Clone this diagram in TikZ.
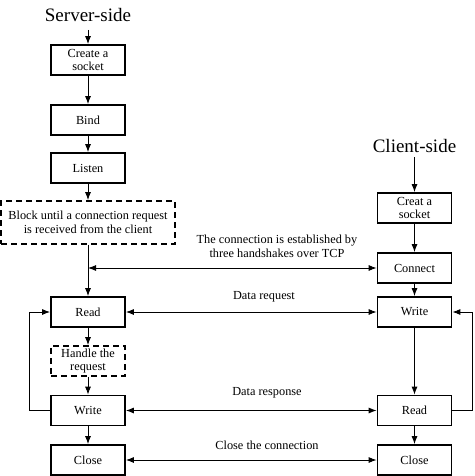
\documentclass[tikz,border=0pt]{standalone}
\usepackage{fontspec}
\setmainfont{Liberation Serif}
\usetikzlibrary{arrows.meta}
\tikzset{
  box/.style={draw, line width=1.7pt, minimum width=74pt, minimum height=30pt, inner sep=1pt, align=center, font=\fontsize{12.3}{13.5}\selectfont},
  dbox/.style={box, dashed, dash pattern=on 6pt off 4pt},
  conn/.style={line width=0.9pt, -{Latex[length=8pt,width=6pt]}},
  dconn/.style={line width=0.9pt, {Latex[length=8pt,width=6pt]}-{Latex[length=8pt,width=6pt]}},
  lbl/.style={font=\fontsize{12.3}{14}\selectfont, align=center},
  ttl/.style={font=\fontsize{19}{21}\selectfont}
}
\begin{document}
\begin{tikzpicture}[x=1pt,y=-1pt]
\useasboundingbox (0,0) rectangle (474,476);
% titles
\node[ttl] (st) at (88,15) {Server-side};
\node[ttl] (ct) at (414.5,146) {Client-side};
\coordinate (sta) at (88,30);
\coordinate (cta) at (414.5,157);
% server column
\node[box] (cs) at (88,60) {Create a\\socket};
\node[box] (bind) at (88,120) {Bind};
\node[box] (listen) at (88,168) {Listen};
\node[dbox, minimum width=174pt, minimum height=43pt] (block) at (88,222.5) {Block until a connection request\\is received from the client};
\node[box] (sread) at (88,312) {Read};
\node[dbox] (handle) at (88,361) {Handle the\\request};
\node[box] (swrite) at (88,410.5) {Write};
\node[box] (sclose) at (88,460) {Close};
% client column
\node[box] (ccs) at (414.5,208) {Creat a\\socket};
\node[box] (connect) at (414.5,268) {Connect};
\node[box] (cwrite) at (414.5,312) {Write};
\node[box] (cread) at (414.5,410.5) {Read};
\node[box] (cclose) at (414.5,460) {Close};
% vertical arrows server
\draw[conn] (sta) -- (cs);
\draw[conn] (cs) -- (bind);
\draw[conn] (bind) -- (listen);
\draw[conn] (listen) -- (block);
\draw[conn] (block) -- (sread);
\draw[conn] (sread) -- (handle);
\draw[conn] (handle) -- (swrite);
\draw[conn] (swrite) -- (sclose);
% vertical arrows client
\draw[conn] (cta) -- (ccs);
\draw[conn] (ccs) -- (connect);
\draw[conn] (connect) -- (cwrite);
\draw[conn] (cwrite) -- (cread);
\draw[conn] (cread) -- (cclose);
% horizontal
\coordinate (hs) at (88,268);
\draw[dconn] (hs) -- (connect.west);
\draw[dconn] (sread.east) -- (cwrite.west);
\draw[dconn] (swrite.east) -- (cread.west);
\draw[dconn] (sclose.east) -- (cclose.west);
% loops
\coordinate (l1) at (29,410.5);
\coordinate (l2) at (29,312);
\draw[conn] (swrite.west) -- (l1) -- (l2) -- (sread.west);
\coordinate (r1) at (472,410.5);
\coordinate (r2) at (472,312);
\draw[conn] (cread.east) -- (r1) -- (r2) -- (cwrite.east);
% labels
\node[lbl] (t1) at (277,246) {The connection is established by\\three handshakes over TCP};
\node[lbl] (t2) at (264,297) {Data request};
\node[lbl] (t3) at (267,393) {Data response};
\node[lbl] (t4) at (267,445) {Close the connection};
\end{tikzpicture}
\end{document}
